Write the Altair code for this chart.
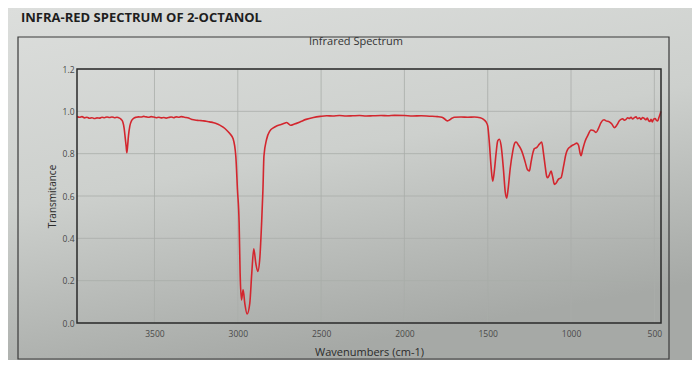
import altair as alt
import pandas as pd

# ---- data ----
wavenumber = [
    3965, 3950, 3935, 3920, 3905, 3890, 3875, 3860, 3845, 3830, 3815, 3800, 3785, 3770,
    3755, 3740, 3725, 3710, 3700, 3690, 3682, 3675, 3670, 3666, 3662, 3656, 3648, 3638,
    3625, 3610, 3595, 3580, 3565, 3550, 3535, 3520, 3505, 3490, 3475, 3460, 3445, 3430,
    3415, 3400, 3385, 3370, 3355, 3340, 3325, 3310, 3295, 3280, 3265, 3250, 3235, 3220,
    3205, 3190, 3175, 3160, 3145, 3130, 3108, 3088, 3068, 3048, 3028, 3012, 3002, 2992,
    2986, 2978, 2968, 2958, 2944, 2928, 2916, 2904, 2892, 2880, 2867, 2857, 2849, 2843,
    2827, 2807, 2787, 2767, 2740, 2720, 2707, 2695, 2683, 2660, 2627, 2590, 2546, 2505,
    2466, 2430, 2390, 2350, 2310, 2270, 2230, 2190, 2140, 2100, 2060, 2000, 1950, 1900,
    1850, 1800, 1775, 1760, 1750, 1740, 1728, 1715, 1700, 1660, 1620, 1580, 1545, 1525,
    1510, 1500, 1490, 1480, 1470, 1460, 1450, 1440, 1430, 1420, 1405, 1395, 1386, 1378,
    1365, 1350, 1338, 1330, 1315, 1300, 1290, 1275, 1262, 1250, 1240, 1230, 1220, 1205,
    1190, 1176, 1165, 1155, 1145, 1140, 1130, 1120, 1110, 1100, 1090, 1075, 1060, 1045,
    1030, 1020, 1000, 980, 965, 955, 945, 940, 930, 915, 900, 880, 865, 850,
    835, 820, 802, 790, 770, 755, 740, 725, 710, 700, 690, 680, 670, 660,
    650, 640, 630, 620, 610, 600, 590, 580, 570, 560, 550, 542, 535, 527,
    520, 512, 505, 495, 488, 480, 472, 466, 461
]
transmittance = [
    0.976, 0.972, 0.975, 0.969, 0.972, 0.967, 0.970, 0.966, 0.969, 0.968, 0.972, 0.970, 0.973, 0.971,
    0.973, 0.970, 0.972, 0.968, 0.962, 0.950, 0.920, 0.870, 0.835, 0.805, 0.830, 0.885, 0.930, 0.955,
    0.967, 0.972, 0.974, 0.973, 0.976, 0.974, 0.972, 0.975, 0.973, 0.970, 0.972, 0.969, 0.971, 0.968,
    0.971, 0.973, 0.970, 0.974, 0.972, 0.975, 0.973, 0.971, 0.968, 0.963, 0.960, 0.958, 0.957, 0.956,
    0.955, 0.953, 0.951, 0.949, 0.946, 0.942, 0.935, 0.925, 0.912, 0.895, 0.870, 0.789, 0.631, 0.473,
    0.236, 0.109, 0.157, 0.093, 0.043, 0.093, 0.236, 0.350, 0.283, 0.244, 0.315, 0.473, 0.631, 0.789,
    0.868, 0.908, 0.922, 0.931, 0.938, 0.944, 0.947, 0.941, 0.934, 0.940, 0.950, 0.962, 0.971, 0.976,
    0.979, 0.978, 0.980, 0.978, 0.979, 0.980, 0.978, 0.979, 0.980, 0.979, 0.981, 0.980, 0.978, 0.979,
    0.977, 0.975, 0.972, 0.965, 0.958, 0.955, 0.960, 0.967, 0.972, 0.973, 0.972, 0.973, 0.970, 0.962,
    0.950, 0.931, 0.850, 0.740, 0.670, 0.720, 0.800, 0.860, 0.868, 0.840, 0.720, 0.620, 0.590, 0.630,
    0.730, 0.810, 0.850, 0.855, 0.840, 0.820, 0.800, 0.760, 0.725, 0.718, 0.760, 0.800, 0.824, 0.830,
    0.845, 0.855, 0.800, 0.740, 0.690, 0.686, 0.700, 0.718, 0.690, 0.655, 0.660, 0.680, 0.686, 0.740,
    0.800, 0.820, 0.835, 0.844, 0.850, 0.840, 0.800, 0.790, 0.820, 0.860, 0.885, 0.912, 0.910, 0.900,
    0.920, 0.947, 0.960, 0.955, 0.950, 0.940, 0.923, 0.935, 0.955, 0.962, 0.965, 0.958, 0.962, 0.970,
    0.966, 0.972, 0.964, 0.970, 0.974, 0.965, 0.970, 0.962, 0.971, 0.966, 0.960, 0.968, 0.957, 0.952,
    0.962, 0.950, 0.962, 0.966, 0.958, 0.955, 0.972, 0.985, 1.000
]
x_ticks = [3500, 3000, 2500, 2000, 1500, 1000, 500]
y_ticks = [0.0, 0.2, 0.4, 0.6, 0.8, 1.0, 1.2]

main_title = "INFRA-RED SPECTRUM OF 2-OCTANOL"
chart_title = "Infrared Spectrum"
x_title = "Wavenumbers (cm-1)"
y_title = "Transmitance"

# ---- chart ----
W, H = 584, 254
FONT = "Open Sans"

spec = pd.DataFrame({"wn": wavenumber, "t": transmittance})
gx = pd.DataFrame({"wn": x_ticks})
gy = pd.DataFrame({"t": y_ticks})
one = pd.DataFrame({"k": [0]})

xscale = alt.Scale(domain=[460, 3965], reverse=True, nice=False, zero=False)
yscale = alt.Scale(domain=[0, 1.2], nice=False, zero=False)

xaxis = alt.Axis(values=x_ticks, format="d", ticks=False, tickSize=0, domain=False, grid=False,
                 zindex=2,
                 labelPadding=6, labelFontSize=8.5, labelColor="#4a4a4a", labelFont=FONT,
                 title=x_title, titleFont=FONT, titleFontSize=11, titleFontWeight="normal",
                 titleColor="#2b2b2b", titleBaseline="middle", titleY=29)
yaxis = alt.Axis(values=y_ticks, format=".1f", ticks=False, tickSize=0, domain=False, grid=False,
                 zindex=2,
                 labelPadding=3, labelFontSize=8.5, labelColor="#4a4a4a", labelFont=FONT,
                 title=y_title, titleFont=FONT, titleFontSize=10, titleFontWeight="normal",
                 titleColor="#2b2b2b", titleBaseline="middle", titleX=-25, titleY=H / 2,
                 titleAngle=270)

bg = alt.Chart(one).mark_rect(
    fill=alt.Gradient(
        gradient="linear",
        stops=[alt.GradientStop(color="#dcdedc", offset=0),
               alt.GradientStop(color="#cdd0cd", offset=0.5),
               alt.GradientStop(color="#a6a9a6", offset=1)],
        x1=0, x2=0.35, y1=0, y2=1),
    stroke=None,
).encode(x=alt.value(-69), x2=alt.value(W + 40), y=alt.value(-61), y2=alt.value(H + 40))

outer = alt.Chart(one).mark_rect(filled=False, stroke="#3a3a3a", strokeWidth=1.2).encode(
    x=alt.value(-59), x2=alt.value(592), y=alt.value(-32), y2=alt.value(290))

grid_x = alt.Chart(gx).mark_rule(color="#a9ada9", strokeWidth=0.8).encode(
    x=alt.X("wn:Q", scale=xscale, axis=xaxis))
grid_y = alt.Chart(gy).mark_rule(color="#a9ada9", strokeWidth=0.8).encode(
    y=alt.Y("t:Q", scale=yscale, axis=yaxis))

line = alt.Chart(spec).mark_line(color="#d3262e", strokeWidth=1.6, interpolate="monotone").encode(
    x=alt.X("wn:Q", scale=xscale, axis=xaxis),
    y=alt.Y("t:Q", scale=yscale, axis=yaxis),
    order=alt.Order("wn:Q", sort="descending"),
)

frame = alt.Chart(one).mark_rect(filled=False, stroke="#2a2a2a", strokeWidth=1.5).encode(
    x=alt.value(0), x2=alt.value(W), y=alt.value(0), y2=alt.value(H))

t_main = alt.Chart(one).mark_text(
    text=main_title, font=FONT, fontSize=13, fontWeight="bold", color="#1e1e1e",
    align="left", baseline="middle").encode(x=alt.value(-56), y=alt.value(-51))
t_chart = alt.Chart(one).mark_text(
    text=chart_title, font=FONT, fontSize=11, color="#333333",
    align="center", baseline="middle").encode(x=alt.value(279), y=alt.value(-27))

chart = alt.layer(bg, outer, grid_x, grid_y, line, frame, t_main, t_chart).properties(
    width=W, height=H,
    padding={"left": 69, "top": 61, "right": 31, "bottom": 37},
    autosize=alt.AutoSizeParams(type="none"),
).configure_view(stroke=None).configure(background="#d2d5d2")

chart.save("out.html", embed_options={"renderer": "svg", "actions": False})
